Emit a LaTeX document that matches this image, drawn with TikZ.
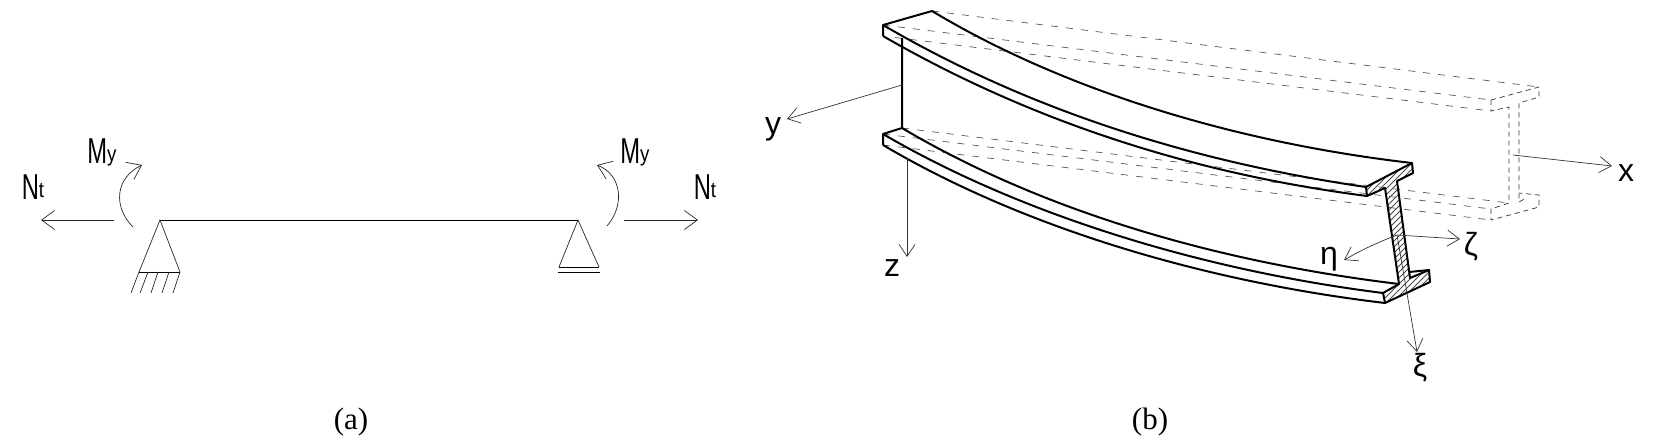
\documentclass[tikz,border=0pt]{standalone}
\usepackage{fontspec}
\setmainfont{Liberation Serif}
\newfontfamily\labelfont{Liberation Sans}
\usetikzlibrary{arrows.meta,patterns}
\tikzstyle{thinline}=[line width=0.35pt,black!85]
\tikzstyle{beamline}=[line width=0.45pt]
\tikzstyle{forcearrow}=[thinline,-{Straight Barb[length=6.5pt,width=9.5pt,line width=0.35pt]}]
\tikzstyle{axisarrow}=[line width=0.35pt,black!80,-{Straight Barb[length=6pt,width=8pt,line width=0.35pt]}]
\tikzstyle{flangeline}=[line width=1pt,line join=round]
\tikzstyle{hiddenline}=[line width=0.35pt,black!65,dash pattern=on 3.5pt off 4pt]
\tikzstyle{hiddenshort}=[line width=0.35pt,black!80,dash pattern=on 2.5pt off 2pt]
\tikzstyle{axislabel}=[inner sep=0pt,font=\labelfont\fontsize{16}{16}\selectfont]
\tikzstyle{caption}=[inner sep=0pt,font=\fontsize{15.5}{15.5}\selectfont]
\newcommand{\forcetext}[2]{%
{\labelfont\scalebox{0.66}[1]{\fontsize{18}{18}\selectfont #1}\raisebox{1pt}{\scalebox{0.85}[1]{\fontsize{11}{11}\selectfont #2}}}%
}
\begin{document}
\begin{tikzpicture}[x=0.5pt,y=-0.5pt]
	\useasboundingbox (0,0) rectangle (1658,441);
	% (a) beam with its supports
	\coordinate (supportL) at (160,220);
	\coordinate (supportR) at (578,220);
	\draw[beamline] (supportL) -- (supportR);
	\draw[thinline] (139,272) -- (supportL) -- (180,272);
	\draw[beamline] (139,272) -- (180,272);
	\foreach \x/\y in {139/131,148/140,158/151,169/162,180/173} {
		\draw[thinline] (\x,272) -- (\y,293);
	}
	\draw[thinline] (559,267) -- (supportR) -- (599,267);
	\draw[beamline] (559,267) -- (599,267);
	\draw[beamline] (558,272) -- (600,272);
	% (a) forces and moments
	\coordinate (forceLa) at (114,220);
	\coordinate (forceLb) at (41,220);
	\coordinate (forceRa) at (624,220);
	\coordinate (forceRb) at (698,220);
	\draw[forcearrow] (forceLa) -- (forceLb);
	\draw[forcearrow] (forceRa) -- (forceRb);
	\coordinate (momentLa) at (133,227);
	\coordinate (momentLb) at (142,165);
	\coordinate (momentRa) at (607,226);
	\coordinate (momentRb) at (597,165);
	\draw[forcearrow] (momentLa) .. controls (113,207) and (115,178) .. (momentLb);
	\draw[forcearrow] (momentRa) .. controls (625,205) and (622,175) .. (momentRb);
	\node[inner sep=0pt] (forceL) at (33,187) {\forcetext{N}{t}};
	\node[inner sep=0pt] (forceR) at (705,187) {\forcetext{N}{t}};
	\node[inner sep=0pt] (momentL) at (102,152) {\forcetext{M}{y}};
	\node[inner sep=0pt] (momentR) at (635,152) {\forcetext{M}{y}};
	\node[caption] (capA) at (351,422) {(a)};
	\node[caption] (capB) at (1150,422) {(b)};
	% (b) straight beam, dashed
	\draw[hiddenline] (932,11) -- (1539,87);
	\draw[hiddenline] (883,25) -- (1491,100);
	\draw[hiddenline] (895,37.5) -- (1491,111);
	\draw[hiddenline] (902,128) -- (1509,203);
	\draw[hiddenline] (883,134) -- (1491,209);
	\draw[hiddenline] (883,145) -- (1491,220);
	\draw[hiddenshort] (1491,100) -- (1539,87) -- (1539,97) -- (1519,103) -- (1519,202) -- (1526,198);
	\draw[hiddenshort] (1491,100) -- (1491,111) -- (1509,107) -- (1509,203) -- (1491,209) -- (1491,220) -- (1539,207) -- (1539,195) -- (1519,193);
	% (b) bent beam
	\draw[flangeline] (883,36) -- (883,25) -- (932,11) .. controls (1060,88) and (1230,142) .. (1412,163);
	\draw[flangeline] (883,25) .. controls (1020,105) and (1180,160) .. (1366,187);
	\draw[flangeline] (883,36) .. controls (1020,115) and (1180,172) .. (1367,196);
	\draw[flangeline] (902,38) -- (902,128) .. controls (1030,204) and (1200,260) .. (1399,284);
	\draw[flangeline] (883,145) -- (883,134) -- (902,128);
	\draw[flangeline] (883,134) .. controls (1020,214) and (1200,270) .. (1383,293);
	\draw[flangeline] (883,145) .. controls (1020,226) and (1200,281) .. (1385,303);
	% (b) cross section
	\draw[flangeline,pattern=north east lines,pattern color=black!70] (1366,187) -- (1412,163) -- (1413,173) -- (1397,181) -- (1410,278) -- (1429,270) -- (1430,282) -- (1385,303) -- (1383,293) -- (1399,284) -- (1385,188) -- (1367,196) -- cycle;
	\draw[flangeline] (1409,272) -- (1429,270);
	% (b) axes
	\coordinate (origY) at (902,85);
	\coordinate (origZ) at (907,158);
	\coordinate (origX) at (1513,155);
	\coordinate (origS) at (1397,235);
	\node[axislabel] (labelY) at (773,129) {y};
	\node[axislabel] (labelZ) at (892,268) {z};
	\node[axislabel] (labelX) at (1626,173) {x};
	\node[axislabel] (labelZeta) at (1471,247) {ζ};
	\node[axislabel] (labelEta) at (1329,259) {η};
	\node[axislabel] (labelXi) at (1420,368) {ξ};
	\draw[axisarrow] (origY) -- (787,119);
	\draw[axisarrow] (origZ) -- (907,257);
	\draw[axisarrow] (origX) -- (1612,166);
	\draw[axisarrow] (origS) -- (1460,239);
	\draw[axisarrow] (origS) to[bend right=4] (1344,260);
	\draw[axisarrow] (origS) -- (1417,352);
\end{tikzpicture}
\end{document}
